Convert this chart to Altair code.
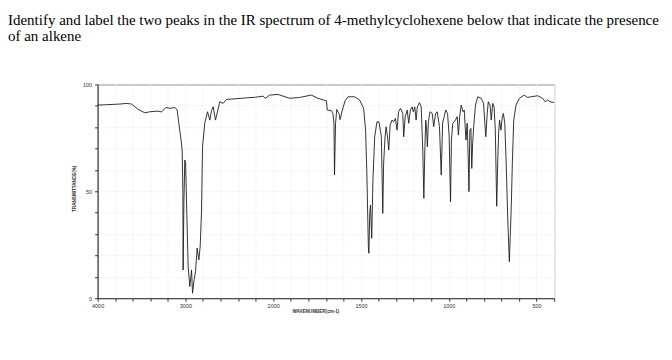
import altair as alt
import pandas as pd

TITLE_LINES = [
    "Identify and label the two peaks in the IR spectrum of 4-methylcyclohexene below that indicate the presence",
    "of an alkene",
]

WAVENUMBER = [
    4000, 3900, 3746, 3670, 3613, 3538, 3462, 3405, 3310, 3272, 3223, 3177, 3120, 3094, 3075,
    3060, 3052, 3037, 3029, 3026, 3017, 3007, 2998, 2984, 2969, 2950, 2930, 2919, 2901, 2885,
    2866, 2847, 2832, 2817, 2805, 2779, 2748, 2722, 2703, 2684, 2657, 2635, 2608, 2571, 2532,
    2450, 2305, 2200, 2116, 2089, 2040, 1973, 1906, 1849, 1783, 1745, 1697, 1692, 1669, 1660,
    1654, 1651, 1645, 1638, 1626, 1619, 1606, 1590, 1574, 1536, 1508, 1485, 1474, 1467, 1458,
    1455, 1450, 1446, 1442, 1439, 1432, 1422, 1409, 1398, 1390, 1384, 1376, 1371, 1363, 1357,
    1348, 1342, 1334, 1323, 1314, 1304, 1295, 1286, 1275, 1262, 1257, 1248, 1237, 1228, 1219,
    1209, 1202, 1194, 1186, 1179, 1167, 1157, 1148, 1142, 1136, 1131, 1126, 1122, 1116, 1107,
    1094, 1086, 1075, 1066, 1053, 1043, 1035, 1017, 1007, 998, 990, 985, 977, 962, 952,
    945, 938, 929, 919, 912, 902, 895, 889, 885, 880, 874, 869, 864, 858, 848,
    835, 815, 802, 795, 789, 781, 775, 765, 758, 750, 742, 735, 727, 721, 716,
    711, 703, 696, 689, 681, 673, 664, 655, 650, 644, 638, 630, 617, 598, 570,
    551, 531, 494, 466, 451, 438, 423, 400,
]
TRANSMITTANCE = [
    90.3, 90.5, 90.8, 91.1, 90.8, 88.3, 86.7, 87.2, 87.5, 87.1, 89.2, 88.8, 89.2, 88.0, 81.8,
    77.1, 74.8, 69.3, 50.6, 13.2, 45.0, 64.6, 63.1, 39.8, 14.8, 5.4, 13.2, 2.3, 8.6, 12.4,
    23.4, 17.9, 24.1, 39.8, 70.8, 82.1, 87.2, 83.3, 87.7, 89.5, 83.3, 87.2, 91.9, 91.1, 93.0,
    93.2, 93.7, 94.0, 94.5, 93.5, 95.0, 95.3, 93.5, 93.9, 95.0, 93.5, 92.3, 88.0, 87.7, 86.4,
    81.8, 57.6, 81.8, 88.3, 86.4, 83.5, 88.0, 92.5, 94.2, 94.2, 92.7, 88.8, 78.6, 60.0, 24.1,
    21.0, 39.7, 43.6, 35.0, 28.0, 55.3, 75.5, 82.5, 82.5, 78.6, 75.5, 39.7, 63.1, 75.5, 80.2,
    74.8, 69.3, 81.0, 83.3, 82.5, 84.1, 78.6, 87.2, 88.8, 86.4, 75.5, 84.9, 88.0, 81.8, 88.0,
    89.5, 87.2, 89.5, 83.3, 89.5, 91.4, 89.5, 69.3, 46.7, 70.8, 83.3, 78.6, 70.8, 82.5, 87.2,
    86.4, 80.2, 86.4, 87.2, 80.2, 57.6, 82.0, 88.0, 86.4, 76.0, 45.1, 74.0, 81.8, 83.3, 84.9,
    76.3, 84.9, 90.3, 87.2, 88.0, 74.0, 81.8, 64.6, 49.8, 78.6, 79.4, 60.7, 72.4, 80.2, 90.3,
    94.2, 93.5, 91.1, 82.5, 75.5, 86.4, 91.9, 90.3, 83.3, 91.1, 89.5, 78.6, 43.0, 64.6, 77.1,
    83.3, 78.6, 84.1, 86.4, 81.8, 63.1, 36.6, 17.1, 28.8, 42.8, 63.1, 83.3, 90.3, 93.5, 95.0,
    93.9, 94.2, 94.7, 93.5, 91.9, 92.7, 91.9, 91.5,
]

X_TICKS = [4000, 3800, 3600, 3400, 3200, 3000, 2800, 2600, 2400, 2200, 2000,
           1900, 1800, 1700, 1600, 1500, 1400, 1300, 1200, 1100, 1000,
           900, 800, 700, 600, 500, 400]
X_LABELED = [4000, 3000, 2000, 1500, 1000, 500]
Y_TICKS = [0, 10, 20, 30, 40, 50, 60, 70, 80, 90, 100]
Y_LABELED = [0, 50, 100]

X_TITLE = "WAVENUMBER(cm-1)"
Y_TITLE = "TRANSMITTANCE(%)"

W, H = 457, 214

spec_df = pd.DataFrame({"wn": WAVENUMBER, "t": TRANSMITTANCE})

x_expr = "indexof(%s, datum.value) >= 0 ? format(datum.value, 'd') : ''" % str(X_LABELED)
y_expr = "indexof(%s, datum.value) >= 0 ? format(datum.value, 'd') : ''" % str(Y_LABELED)

line = alt.Chart(spec_df).mark_line(
    color="#1e1e1e", strokeWidth=0.9, interpolate="linear", clip=True
).encode(
    x=alt.X(
        "wn:Q",
        sort=None,
        scale=alt.Scale(domain=[4000, 2000, 400], range=[0, 175.8, W], nice=False, zero=False),
        axis=alt.Axis(
            values=X_TICKS, labelExpr=x_expr, title=X_TITLE, grid=True,
            gridColor="#f6f6f6", labelOverlap=False, labelFlush=False, labelBound=False,
            tickSize=3, labelPadding=2, labelFontSize=5.5, labelFont="Liberation Sans",
            titleFontSize=4.6, titleFont="Liberation Sans", titleFontWeight="bold",
            titleX=218, titleY=13, titleBaseline="middle", titleAlign="center",
        ),
    ),
    y=alt.Y(
        "t:Q",
        scale=alt.Scale(domain=[0, 100], nice=False, zero=False),
        axis=alt.Axis(
            values=Y_TICKS, labelExpr=y_expr, title=Y_TITLE, grid=True,
            gridColor="#f6f6f6", labelOverlap=False, labelFlush=False, labelBound=False,
            tickSize=3, labelPadding=3, labelFontSize=5.5, labelFont="Liberation Sans",
            titleFontSize=4.6, titleFont="Liberation Sans", titleFontWeight="bold",
            titleX=-23, titleY=104, titleBaseline="middle", titleAlign="center",
        ),
    ),
    order=alt.Order("idx:Q"),
).transform_window(idx="row_number()")

title1 = alt.Chart(pd.DataFrame({"s": [TITLE_LINES[0]]})).mark_text(
    font="Liberation Serif", fontSize=15, color="#000", align="left", baseline="alphabetic"
).encode(text="s:N", x=alt.value(-89.7), y=alt.value(-59.5))

title2 = alt.Chart(pd.DataFrame({"s": [TITLE_LINES[1]]})).mark_text(
    font="Liberation Serif", fontSize=15, color="#000", align="left", baseline="alphabetic"
).encode(text="s:N", x=alt.value(-89.7), y=alt.value(-43.5))

chart = alt.layer(line, title1, title2).properties(
    width=W, height=H,
    autosize=alt.AutoSizeParams(type="none"),
    padding={"left": 89.7, "top": 76.3, "right": 110, "bottom": 40},
).configure_view(
    stroke="#333", strokeWidth=1
).configure_axis(
    domainColor="#333", tickColor="#333", labelColor="#333", titleColor="#333",
    domainWidth=1, tickWidth=1,
)

chart.save("out.html", embed_options={"renderer": "svg", "actions": False})
